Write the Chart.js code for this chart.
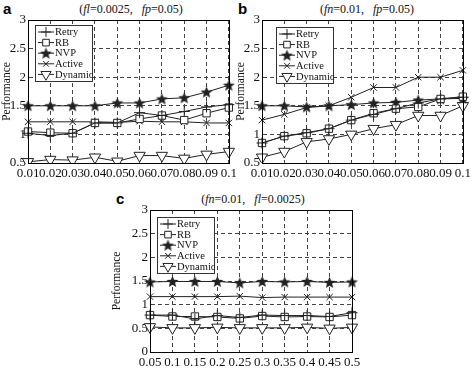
<!DOCTYPE html>
<html>
<head>
<meta charset="utf-8">
<script src="https://cdn.jsdelivr.net/npm/chart.js@4.4.0/dist/chart.umd.min.js"></script>
<style>
  body { margin: 0; background: #fff; width: 474px; height: 369px; position: relative; overflow: hidden; }
  .box { position: absolute; }
  .ttl { position: absolute; font-family: "Liberation Serif", serif; font-size: 12px; color: #111; white-space: pre; transform: translateX(-50%); }
  .let { position: absolute; font-family: "Liberation Sans", Arial, sans-serif; font-weight: bold; font-size: 15px; color: #000; }
</style>
</head>
<body>
<div class="let" style="left:3px;top:0px">a</div>
<div class="let" style="left:238px;top:0px">b</div>
<div class="let" style="left:116px;top:190px">c</div>
<div class="ttl" style="left:131px;top:2px">(<i>fl</i>=0.0025,   <i>fp</i>=0.05)</div>
<div class="ttl" style="left:367px;top:2px">(<i>fn</i>=0.01,   <i>fp</i>=0.05)</div>
<div class="ttl" style="left:253px;top:192px">(<i>fn</i>=0.01,   <i>fl</i>=0.0025)</div>
<div class="box" style="left:0;top:0;width:240px;height:185px"><canvas id="chartA"></canvas></div>
<div class="box" style="left:234px;top:0;width:240px;height:185px"><canvas id="chartB"></canvas></div>
<div class="box" style="left:110px;top:185px;width:260px;height:184px"><canvas id="chartC"></canvas></div>
<script>
const names = ["Retry", "RB", "NVP", "Active", "Dynamic"];

// panel a: x = fn
const xA = ["0.01", "0.02", "0.03", "0.04", "0.05", "0.06", "0.07", "0.08", "0.09", "0.1"];
const aRetry   = [1.02, 0.98, 1.02, 1.20, 1.20, 1.38, 1.33, 1.40, 1.48, 1.52];
const aRB      = [1.05, 1.03, 1.02, 1.20, 1.20, 1.27, 1.33, 1.25, 1.37, 1.47];
const aNVP     = [1.50, 1.50, 1.50, 1.50, 1.55, 1.55, 1.62, 1.64, 1.74, 1.86];
const aActive  = [1.22, 1.22, 1.22, 1.22, 1.21, 1.23, 1.22, 1.22, 1.20, 1.20];
const aDynamic = [0.52, 0.56, 0.55, 0.60, 0.53, 0.63, 0.63, 0.58, 0.65, 0.70];

// panel b: x = fl
const xB = ["0.01", "0.02", "0.03", "0.04", "0.05", "0.06", "0.07", "0.08", "0.09", "0.1"];
const bRetry   = [0.85, 0.97, 1.03, 1.10, 1.25, 1.35, 1.45, 1.55, 1.62, 1.65];
const bRB      = [0.85, 0.97, 1.02, 1.10, 1.25, 1.37, 1.45, 1.48, 1.62, 1.66];
const bNVP     = [1.50, 1.50, 1.48, 1.50, 1.52, 1.55, 1.56, 1.60, 1.62, 1.63];
const bActive  = [1.25, 1.35, 1.47, 1.50, 1.65, 1.82, 1.82, 2.00, 2.00, 2.12];
const bDynamic = [0.60, 0.70, 0.87, 0.92, 1.00, 1.10, 1.17, 1.33, 1.33, 1.50];

// panel c: x = fp
const xC = ["0.05", "0.1", "0.15", "0.2", "0.25", "0.3", "0.35", "0.4", "0.45", "0.5"];
const cRetry   = [0.78, 0.78, 0.70, 0.77, 0.73, 0.78, 0.77, 0.77, 0.75, 0.83];
const cRB      = [0.78, 0.75, 0.75, 0.74, 0.71, 0.76, 0.74, 0.75, 0.74, 0.78];
const cNVP     = [1.48, 1.49, 1.49, 1.49, 1.46, 1.49, 1.48, 1.49, 1.47, 1.48];
const cActive  = [1.17, 1.17, 1.17, 1.17, 1.18, 1.15, 1.16, 1.16, 1.16, 1.16];
const cDynamic = [0.53, 0.51, 0.51, 0.52, 0.51, 0.51, 0.51, 0.52, 0.50, 0.52];

const ink = "#222";
const serif = "'Liberation Serif', 'Times New Roman', serif";

// filled five point star used as marker
const star = document.createElement("canvas");
star.width = 13; star.height = 13;
(function () {
  const g = star.getContext("2d");
  g.fillStyle = ink;
  g.beginPath();
  for (let i = 0; i < 10; i++) {
    const r = i % 2 ? 2.7 : 6.3;
    const a = -Math.PI / 2 + i * Math.PI / 5;
    g.lineTo(6.5 + r * Math.cos(a), 7 + r * Math.sin(a));
  }
  g.closePath();
  g.fill();
})();

const marks = {
  Retry:   { pointStyle: "cross", radius: 5.5, rotation: 0 },
  RB:      { pointStyle: "rect", radius: 5.2, rotation: 0 },
  NVP:     { pointStyle: star, radius: 6, rotation: 0 },
  Active:  { pointStyle: "crossRot", radius: 4.5, rotation: 0 },
  Dynamic: { pointStyle: "triangle", radius: 6.5, rotation: 180 }
};

const legendBox = {
  id: "legendBox",
  afterDraw(chart, args, opts) {
    const ctx = chart.ctx;
    const a = chart.chartArea;
    // solid frame
    ctx.save();
    ctx.strokeStyle = "#000";
    ctx.lineWidth = 1;
    ctx.setLineDash([]);
    ctx.strokeRect(Math.round(a.left) + 0.5, Math.round(a.top) + 0.5, Math.round(a.right - a.left), Math.round(a.bottom - a.top));
    // legend inside the plot
    const x0 = Math.round(a.left + opts.dx), y0 = Math.round(a.top + opts.dy), w = 57, h = 56;
    ctx.fillStyle = "#fff";
    ctx.fillRect(x0, y0, w, h);
    ctx.strokeStyle = "#333";
    ctx.strokeRect(x0 + 0.5, y0 + 0.5, w, h);
    ctx.font = "10.5px " + serif;
    ctx.textBaseline = "middle";
    chart.data.datasets.forEach((ds, i) => {
      const y = y0 + 7 + i * 10.6;
      ctx.strokeStyle = ink;
      ctx.beginPath();
      ctx.moveTo(x0 + 3, y);
      ctx.lineTo(x0 + 19, y);
      ctx.stroke();
      ctx.fillStyle = "#fff";
      Chart.helpers.drawPoint(ctx, {
        pointStyle: ds.pointStyle, radius: ds.pointRadius * 0.9, rotation: ds.pointRotation, borderWidth: 1
      }, x0 + 11, y);
      ctx.fillStyle = "#111";
      ctx.fillText(ds.label, x0 + 20, y + 0.5);
    });
    ctx.restore();
  }
};

function makeChart(id, labels, series, yMin, yWidth, xHeight, pad, legendAt) {
  new Chart(document.getElementById(id), {
    type: "line",
    data: {
      labels: labels,
      datasets: series.map((vals, i) => {
        const m = marks[names[i]];
        return {
          label: names[i],
          data: vals,
          borderColor: ink,
          borderWidth: 1,
          backgroundColor: "#fff",
          pointBackgroundColor: "#fff",
          pointBorderColor: ink,
          pointBorderWidth: 1,
          pointStyle: m.pointStyle,
          pointRadius: m.radius,
          pointRotation: m.rotation,
          tension: 0
        };
      })
    },
    options: {
      responsive: true,
      maintainAspectRatio: false,
      animation: false,
      events: [],
      layout: { padding: pad },
      plugins: {
        legend: { display: false },
        title: { display: false },
        tooltip: { enabled: false },
        legendBox: legendAt
      },
      scales: {
        x: {
          offset: false,
          grid: { color: "#444", lineWidth: 1, drawTicks: false },
          border: { display: true, color: "#000", dash: [4, 3] },
          ticks: { color: "#111", font: { family: serif, size: 13 }, autoSkip: false, maxRotation: 0, padding: 3 },
          afterFit(s) { s.height = xHeight; }
        },
        y: {
          min: yMin,
          max: 3,
          grid: { color: "#444", lineWidth: 1, drawTicks: false },
          border: { display: true, color: "#000", dash: [4, 3] },
          ticks: {
            stepSize: 0.5, color: "#111", font: { family: serif, size: 13 }, padding: 2,
            callback: (v) => String(Math.round(v * 10) / 10)
          },
          title: { display: true, text: "Performance", color: "#111", font: { family: serif, size: 11.5 }, padding: 0 },
          afterFit(s) { s.width = yWidth; }
        }
      }
    },
    plugins: [legendBox]
  });
}

makeChart("chartA", xA, [aRetry, aRB, aNVP, aActive, aDynamic], 0.5, 28, 22, { top: 20, right: 10, left: 0, bottom: 0 }, { dx: 7, dy: 5 });
makeChart("chartB", xB, [bRetry, bRB, bNVP, bActive, bDynamic], 0.5, 28, 22, { top: 20, right: 7, left: 0, bottom: 0 }, { dx: 14, dy: 7 });
makeChart("chartC", xC, [cRetry, cRB, cNVP, cActive, cDynamic], 0, 40, 17, { top: 25, right: 18, left: 0, bottom: 0 }, { dx: 7, dy: 7 });
</script>
</body>
</html>
